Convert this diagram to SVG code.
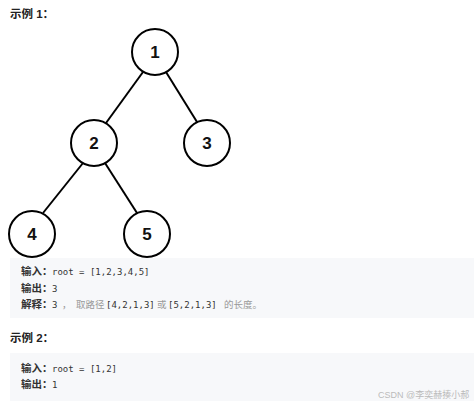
<svg xmlns="http://www.w3.org/2000/svg" width="474" height="404" viewBox="0 0 474 404">
<style>
.title{font-family:"Liberation Sans","Noto Sans CJK SC",sans-serif;font-size:11.5px;font-weight:bold;fill:#222}
.lbl{font-family:"Liberation Sans","Noto Sans CJK SC",sans-serif;font-size:10.5px;font-weight:bold;fill:#333}
.code{font-family:"DejaVu Sans Mono","Liberation Mono",monospace;font-size:9px;fill:#333}
.gray{font-family:"Noto Sans CJK SC",sans-serif;font-size:9.5px;fill:#999}
.node circle{fill:#fff;stroke:#000;stroke-width:2}
.node text{font-family:"Liberation Sans",Arial,sans-serif;font-size:17px;font-weight:bold;fill:#111;text-anchor:middle}
.edges line{stroke:#000;stroke-width:2}
.box{fill:#f7f8fa}
.wm{font-family:"Liberation Sans","Noto Sans CJK SC",sans-serif;font-size:9px;fill:#bbb}
</style>
<rect width="474" height="404" fill="#fff"/>
<text class="title" x="10" y="18">示例 1：</text>
<g class="edges">
<line x1="143" y1="72" x2="106" y2="123"/>
<line x1="166" y1="72" x2="197" y2="122"/>
<line x1="83" y1="163" x2="43" y2="213"/>
<line x1="105" y1="163" x2="137" y2="213"/>
</g>
<g id="n1" class="node"><circle cx="155" cy="52" r="23"/><text x="155" y="58">1</text></g>
<g id="n2" class="node"><circle cx="94" cy="143" r="23"/><text x="94" y="149">2</text></g>
<g id="n3" class="node"><circle cx="207" cy="143" r="23"/><text x="207" y="149">3</text></g>
<g id="n4" class="node"><circle cx="32" cy="234" r="23"/><text x="32" y="240">4</text></g>
<g id="n5" class="node"><circle cx="147" cy="234" r="23"/><text x="147" y="240">5</text></g>
<rect class="box" x="10" y="258" width="464" height="60"/>
<text class="lbl" x="21" y="275">输入：</text><text class="code" x="52" y="275">root = [1,2,3,4,5]</text>
<text class="lbl" x="21" y="292">输出：</text><text class="code" x="52" y="292">3</text>
<text class="lbl" x="21" y="308">解释：</text><text class="code" x="52" y="308">3</text>
<text class="gray" x="62" y="308">，</text>
<text class="gray" x="76" y="308">取路径</text>
<text class="code" x="106" y="308">[4,2,1,3]</text>
<text class="gray" x="157" y="308">或</text>
<text class="code" x="168" y="308">[5,2,1,3]</text>
<text class="gray" x="224" y="308">的长度。</text>
<text class="title" x="10" y="342">示例 2：</text>
<rect class="box" x="10" y="353" width="464" height="48"/>
<text class="lbl" x="21" y="372">输入：</text><text class="code" x="52" y="372">root = [1,2]</text>
<text class="lbl" x="21" y="388">输出：</text><text class="code" x="52" y="388">1</text>
<text class="wm" x="378" y="398">CSDN @李奕赫揍小郝</text>
</svg>
